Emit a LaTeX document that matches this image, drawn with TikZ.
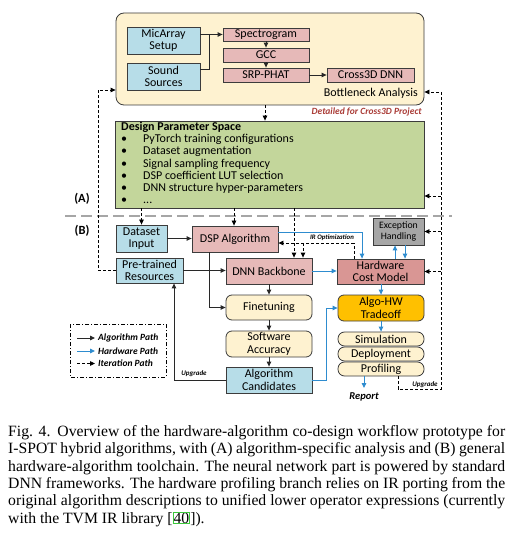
\documentclass[tikz,border=0pt]{standalone}
\usepackage{fontspec}
\setmainfont{Carlito}
\newfontfamily\capfont{Liberation Serif}
\usetikzlibrary{arrows.meta,calc}
\definecolor{bordc}{RGB}{60,60,60}
\definecolor{cblue}{RGB}{183,221,232}
\definecolor{cpink}{RGB}{230,185,184}
\definecolor{chcm}{RGB}{217,150,148}
\definecolor{cexc}{RGB}{166,166,166}
\definecolor{ccream}{RGB}{254,242,208}
\definecolor{cgreen}{RGB}{195,214,155}
\definecolor{corange}{RGB}{255,192,0}
\definecolor{hwc}{RGB}{46,140,207}
\definecolor{algc}{RGB}{40,40,40}
\definecolor{dred}{RGB}{170,60,55}
\definecolor{sepc}{RGB}{166,166,166}
\definecolor{linkg}{RGB}{60,200,60}
\begin{document}
\begin{tikzpicture}[x=1pt,y=-1pt,
  box/.style={draw=bordc, line width=0.8pt, inner sep=0pt, align=center,
    font=\fontsize{12}{12.6}\selectfont},
  bbox/.style={box, fill=cblue},
  pbox/.style={box, fill=cpink},
  cbox/.style={box, fill=ccream, rounded corners=6pt},
  tip/.style={-{Triangle[length=5pt,width=4.5pt]}},
  algo/.style={draw=algc, line width=0.9pt, tip},
  hw/.style={draw=hwc, line width=0.9pt, tip},
  iter/.style={draw=black, line width=0.8pt, dash pattern=on 3pt off 2pt, tip},
  iterl/.style={draw=black, line width=0.8pt, dash pattern=on 3pt off 2pt},
  lbl/.style={inner sep=0pt, font=\fontsize{#1}{#1}\selectfont\bfseries\itshape},
  plain/.style={anchor=base west, inner sep=0pt, font=\fontsize{12}{12}\selectfont},
  capline/.style={anchor=base west, inner sep=0pt, font=\capfont\fontsize{15.7}{17.3}\selectfont}
]
\useasboundingbox[fill=white] (0,0) rectangle (516,534);

% ---------- (A) top container ----------
\node[box, fill=ccream, rounded corners=8pt, minimum width=308pt, minimum height=92pt] (top) at (270,59) {};
\node[bbox, minimum width=73pt, minimum height=27pt] (mic) at (163.5,40.5) {MicArray\\Setup};
\node[bbox, minimum width=73pt, minimum height=27pt] (snd) at (163.5,76.5) {Sound\\Sources};
\node[pbox, minimum width=86pt, minimum height=13pt] (spec) at (266,34.5) {Spectrogram};
\node[pbox, minimum width=86pt, minimum height=14pt] (gcc) at (266,55) {GCC};
\node[pbox, minimum width=86pt, minimum height=14pt] (srp) at (266,75) {SRP-PHAT};
\node[pbox, minimum width=87pt, minimum height=14pt] (cross) at (370.5,75) {Cross3D DNN};
\node[anchor=east, inner sep=0pt, font=\fontsize{12}{12}\selectfont] (bott) at (418,93) {Bottleneck Analysis};
\node[lbl=9.5, anchor=east, text=dred] (det) at (422,112) {Detailed for Cross3D Project};

\coordinate (j1) at (209,34.5);
\draw[algc, line width=0.9pt] (mic.east |- j1) -- (j1);
\draw[algc, line width=0.9pt] ([yshift=7.5pt]snd.east) -| (j1);
\draw[algo] (j1) -- (spec.west);
\draw[algo] (spec.south) -- (gcc.north);
\draw[algo] (gcc.south) -- (srp.north);
\draw[algo] (srp.east) -- (cross.west);

% ---------- design parameter space ----------
\node[box, fill=cgreen, minimum width=309pt, minimum height=87pt] (green) at (269.5,164.5) {};
\draw[iter] ([xshift=-5pt]top.south) -- ([xshift=-4.5pt]green.north);
\node[plain, font=\fontsize{12}{12}\selectfont\bfseries] (dps) at (121,130.5) {Design Parameter Space};
\node[plain] (b1) at (121,142.7) {•};
\node[plain] (i1) at (143,142.7) {PyTorch training configurations};
\node[plain] (b2) at (121,154.9) {•};
\node[plain] (i2) at (143,154.9) {Dataset augmentation};
\node[plain] (b3) at (121,167.1) {•};
\node[plain] (i3) at (143,167.1) {Signal sampling frequency};
\node[plain] (b4) at (121,179.3) {•};
\node[plain] (i4) at (143,179.3) {DSP coefficient LUT selection};
\node[plain] (b5) at (121,191.5) {•};
\node[plain] (i5) at (143,191.5) {DNN structure hyper-parameters};
\node[plain] (b6) at (121,203.7) {•};
\node[plain] (i6) at (143,203.7) {...};

% separator
\draw[sepc, line width=2.6pt, dash pattern=on 11pt off 5pt] (65,216) -- (452,216);
\node[inner sep=0pt, font=\fontsize{12.5}{12.5}\selectfont\bfseries] (lA) at (82,199) {(A)};
\node[inner sep=0pt, font=\fontsize{12.5}{12.5}\selectfont\bfseries] (lB) at (82,231) {(B)};

% ---------- (B) toolchain ----------
\node[bbox, minimum width=51pt, minimum height=27pt] (ds) at (141.5,238.5) {Dataset\\Input};
\node[bbox, minimum width=67pt, minimum height=25pt] (pre) at (149.5,270.5) {Pre-trained\\Resources};
\node[pbox, minimum width=86pt, minimum height=26pt] (dsp) at (235,239) {DSP Algorithm};
\node[pbox, minimum width=86pt, minimum height=26pt] (dnn) at (269,271) {DNN Backbone};
\node[cbox, minimum width=86pt, minimum height=25pt] (fine) at (269,307.5) {Finetuning};
\node[cbox, minimum width=86pt, minimum height=26pt] (sw) at (269,344) {Software\\Accuracy};
\node[bbox, minimum width=86pt, minimum height=26pt] (cand) at (269,380) {Algorithm\\Candidates};
\node[box, fill=chcm, minimum width=87pt, minimum height=25pt] (hcm) at (380.5,271.5) {Hardware\\Cost Model};
\node[box, fill=cexc, minimum width=51pt, minimum height=27pt, font=\fontsize{9.8}{10.5}\selectfont] (exc) at (398.5,231.5) {Exception\\Handling};
\node[box, fill=corange, rounded corners=6pt, minimum width=86pt, minimum height=26pt] (ahw) at (381,308) {Algo-HW\\Tradeoff};
\node[box, fill=ccream, rounded corners=6.5pt, minimum width=86pt, minimum height=14pt] (sim) at (381,339) {Simulation};
\node[box, fill=ccream, rounded corners=6.5pt, minimum width=86pt, minimum height=14pt] (dep) at (381,354) {Deployment};
\node[box, fill=ccream, rounded corners=6.5pt, minimum width=86pt, minimum height=14pt] (prof) at (381,369) {Profiling};
\node[lbl=10.5] (rep) at (364,397) {Report};

% dashed drops from design space
\draw[iter] (ds.north |- green.south) -- (ds.north);
\draw[iter] ([xshift=-1pt]dsp.north |- green.south) -- ([xshift=-1pt]dsp.north);
\draw[iter] ([xshift=25pt]dnn.north |- green.south) -- ([xshift=25pt]dnn.north);

% IR optimization
\coordinate (ir) at (354,243);
\coordinate (irb) at (303,243);
\draw[iterl] (ir |- hcm.north) -- (ir);
\draw[iter] (ir) -- (dsp.east |- ir);
\draw[iter] (irb) -- (irb |- dnn.north);
\node[lbl=6.8] (irt) at (332,238) {IR Optimization};

% hardware path
\coordinate (hb) at (362,232);
\draw[hw] (dsp.east |- hb) -- (hb) -- (hb |- hcm.north);
\draw[hw] (dnn.east) -- (hcm.west |- dnn.east);
\draw[hw] ([xshift=-3.5pt]exc.south |- hcm.north) -- ([xshift=-3.5pt]exc.south);
\draw[hw] ([xshift=6.5pt]exc.south) -- ([xshift=6.5pt]exc.south |- hcm.north);
\draw[hw] (hcm.south -| ahw.north) -- (ahw.north);
\draw[hw] (ahw.south) -- (sim.north);
\coordinate (cb) at (326,380);
\draw[hw] (cand.east) -- (cb) |- (ahw.west);
\coordinate (rp) at (364,388);
\draw[hw] (rp |- prof.south) -- (rp);

% algorithm path
\draw[algo] (ds.east) -- (dsp.west |- ds.east);
\draw[algo] (pre.east) -- (dnn.west |- pre.east);
\coordinate (dj) at (209,307.5);
\draw[algo] (dj |- dsp.south) -- (dj) -- (fine.west);
\draw[algo] (dnn.south) -- (fine.north);
\draw[algo] (fine.south) -- (sw.north);
\draw[algo] (sw.south) -- (cand.north);
\coordinate (uj) at (174,380);
\draw[algo] (cand.west) -- (uj) -- (uj |- pre.south);
\node[lbl=7] (up1) at (194,374) {Upgrade};

% left iteration path
\coordinate (lt) at (98,90);
\draw[iter] (pre.west) -- (pre.west -| lt) -- (lt) -- (top.west |- lt);

% right iteration path
\coordinate (rb) at (441,389);
\coordinate (rt) at (441,92);
\coordinate (pf) at (398,376);
\draw[iter] (pf |- prof.south) |- (rb) -- (rt) -- (top.east |- rt);
\coordinate (rg) at (441,196);
\draw[iter] (rg) -- (green.east |- rg);
\draw[iter] (rb |- exc.east) -- (exc.east);
\draw[iter] (rb |- hcm.east) -- (hcm.east);
\node[lbl=7] (up2) at (425,384.5) {Upgrade};

% legend
\draw[black, line width=0.7pt, dash pattern=on 4pt off 2pt on 1pt off 2pt] (70,324) rectangle (166,377);
\draw[algo] (77,338) -- (95,338);
\draw[hw] (77,351) -- (95,351);
\draw[iter] (77,363.5) -- (95,363.5);
\node[lbl=9.5, anchor=west] (lg1) at (98,338) {Algorithm Path};
\node[lbl=9.5, anchor=west] (lg2) at (98,351) {Hardware Path};
\node[lbl=9.5, anchor=west] (lg3) at (98,363.5) {Iteration Path};

% ---------- caption ----------
\node[capline] (c1) at (8,436.5) {\makebox[497pt][s]{Fig. 4.\hspace{7pt}Overview of the hardware-algorithm co-design workflow prototype for}};
\node[capline] (c2) at (8,453.8) {\makebox[497pt][s]{I-SPOT hybrid algorithms, with (A) algorithm-specific analysis and (B) general}};
\node[capline] (c3) at (8,471.1) {\makebox[497pt][s]{hardware-algorithm toolchain. The neural network part is powered by standard}};
\node[capline] (c4) at (8,488.4) {\makebox[497pt][s]{DNN frameworks. The hardware profiling branch relies on IR porting from the}};
\node[capline] (c5) at (8,505.7) {\makebox[497pt][s]{original algorithm descriptions to unified lower operator expressions (currently}};
\node[capline] (c6) at (8,523) {with the TVM IR library [{\setlength{\fboxsep}{0pt}\setlength{\fboxrule}{1pt}\fcolorbox{linkg}{white}{40}}]).};
\end{tikzpicture}
\end{document}
